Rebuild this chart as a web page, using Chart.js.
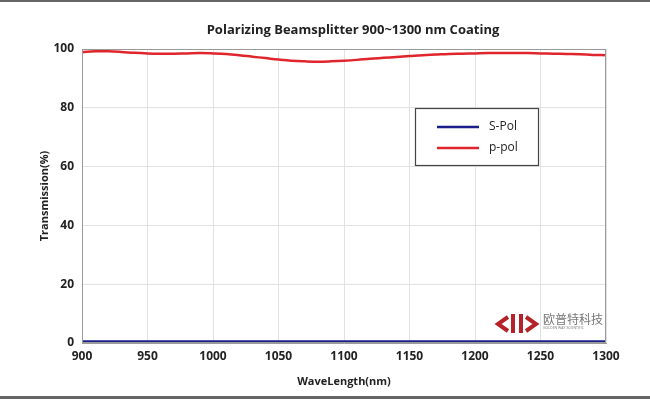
<!DOCTYPE html>
<html><head><meta charset="utf-8">
<script src="https://cdn.jsdelivr.net/npm/chart.js@4"></script>
<style>html,body{margin:0;padding:0;background:#fff;}#wrap{width:650px;height:399px;position:relative;}</style>
</head><body><div id="wrap"><canvas id="c" width="650" height="399"></canvas></div>
<script>
const wavelengths = [900,910,920,930,940,950,960,970,980,990,1000,1010,1020,1030,1040,1050,1060,1070,1080,1090,1100,1110,1120,1130,1140,1150,1160,1170,1180,1190,1200,1210,1220,1230,1240,1250,1260,1270,1280,1290,1300];
const pPol = [99.0,99.2,99.2,99.0,98.7,98.5,98.4,98.4,98.5,98.6,98.5,98.3,97.9,97.4,96.9,96.4,96.0,95.8,95.7,95.8,96.0,96.3,96.7,97.0,97.3,97.6,97.9,98.1,98.3,98.4,98.5,98.6,98.6,98.6,98.6,98.5,98.4,98.3,98.2,98.0,97.9];
const sPol = [0.4,0.4,0.4,0.4,0.4,0.4,0.4,0.4,0.4,0.4,0.4,0.4,0.4,0.4,0.4,0.4,0.4,0.4,0.4,0.4,0.4,0.4,0.4,0.4,0.4,0.4,0.4,0.4,0.4,0.4,0.4,0.4,0.4,0.4,0.4,0.4,0.4,0.4,0.4,0.4,0.4];
const seriesNames = ['S-Pol','p-pol'];
const titleText = 'Polarizing Beamsplitter 900~1300 nm Coating';
const xTitle = 'WaveLength(nm)';
const yTitle = 'Transmission(%)';
const brandCN = '欧普特科技';
const brandEN = 'GOLDEN WAY SCIENTIFIC';

const FONT = '"Open Sans", "Noto Sans", sans-serif';

const framePlugin = {
  id:'frame',
  beforeDraw(chart){
    const ctx = chart.ctx;
    ctx.save();
    ctx.fillStyle='#fff';
    ctx.fillRect(0,0,chart.width,chart.height);
    ctx.restore();
  },
  afterDraw(chart){
    const ctx = chart.ctx;
    const a = chart.chartArea;
    ctx.save();
    ctx.fillStyle='#666';
    ctx.fillRect(0,0,chart.width,2);
    ctx.fillRect(0,chart.height-3,chart.width,3);
    // title
    ctx.fillStyle='#222';
    ctx.font='bold 13px '+FONT;
    ctx.textAlign='center';
    ctx.textBaseline='middle';
    ctx.fillText(titleText,353,30);
    // y title
    ctx.save();
    ctx.translate(45,(a.top+a.bottom)/2);
    ctx.rotate(-Math.PI/2);
    ctx.font='bold 11px '+FONT;
    ctx.fillText(yTitle,0,0);
    ctx.restore();
    ctx.textAlign='left';
    // plot border
    ctx.strokeStyle='#9a9a9a';
    ctx.lineWidth=1;
    ctx.strokeRect(a.left+0.5,a.top+0.5,a.right-a.left-1,a.bottom-a.top-1);
    // legend box
    const bx=415, by=108, bw=123, bh=57;
    ctx.fillStyle='#fff';
    ctx.fillRect(bx,by,bw,bh);
    ctx.strokeStyle='#444';
    ctx.lineWidth=1.2;
    ctx.strokeRect(bx+0.5,by+0.5,bw,bh);
    chart.data.datasets.forEach((ds,i)=>{
      const y = 127 + i*21;
      ctx.strokeStyle=ds.borderColor;
      ctx.lineWidth=2.5;
      ctx.beginPath();ctx.moveTo(437,y);ctx.lineTo(479,y);ctx.stroke();
      ctx.fillStyle='#222';
      ctx.font='12px '+FONT;
      ctx.textBaseline='middle';
      ctx.fillText(ds.label,489,y);
    });
    // brand mark
    ctx.strokeStyle='#b5232a';
    ctx.lineWidth=4;
    ctx.lineJoin='miter';
    ctx.beginPath();ctx.moveTo(508,317);ctx.lineTo(498,324);ctx.lineTo(508,331);ctx.stroke();
    ctx.beginPath();ctx.moveTo(513,314);ctx.lineTo(513,333);ctx.stroke();
    ctx.beginPath();ctx.moveTo(526,317);ctx.lineTo(536,324);ctx.lineTo(526,331);ctx.stroke();
    ctx.beginPath();ctx.moveTo(521,314);ctx.lineTo(521,333);ctx.stroke();
    ctx.fillStyle='#777';
    ctx.font='12px "Noto Sans CJK SC", sans-serif';
    ctx.textBaseline='middle';
    ctx.fillText(brandCN,543,319);
    ctx.font='3.5px '+FONT;
    ctx.fillText(brandEN,543,328);
    ctx.restore();
  }
};

new Chart(document.getElementById('c'),{
  type:'line',
  data:{
    datasets:[
      {label:seriesNames[0],data:wavelengths.map((x,i)=>({x:x,y:sPol[i]})),borderColor:'#1a1f8c',borderWidth:3,pointRadius:0,tension:0.4},
      {label:seriesNames[1],data:wavelengths.map((x,i)=>({x:x,y:pPol[i]})),borderColor:'#e0262c',borderWidth:2.5,pointRadius:0,tension:0.4}
    ]
  },
  options:{
    responsive:false,animation:false,
    layout:{padding:{left:0,right:44,top:49,bottom:7}},
    plugins:{
      legend:{display:false},
      tooltip:{enabled:false},
      title:{display:false}
    },
    scales:{
      x:{type:'linear',min:900,max:1300,
        ticks:{stepSize:50,color:'#222',font:{family:FONT,size:12,weight:'bold'},padding:6,maxRotation:0,callback:v=>String(v)},
        grid:{color:'#e2e2e2',drawTicks:false},
        border:{color:'#9a9a9a'},
        title:{display:true,text:xTitle,color:'#222',font:{family:FONT,size:11,weight:'bold'},padding:{top:8}},
        afterFit(s){s.height=49;}
      },
      y:{min:0,max:100,
        ticks:{stepSize:20,color:'#222',font:{family:FONT,size:12,weight:'bold'},padding:8},
        grid:{color:'#e2e2e2',drawTicks:false},
        border:{color:'#9a9a9a'},
        title:{display:false},
        afterFit(s){s.width=82;}
      }
    }
  },
  plugins:[framePlugin]
});
</script></body></html>
